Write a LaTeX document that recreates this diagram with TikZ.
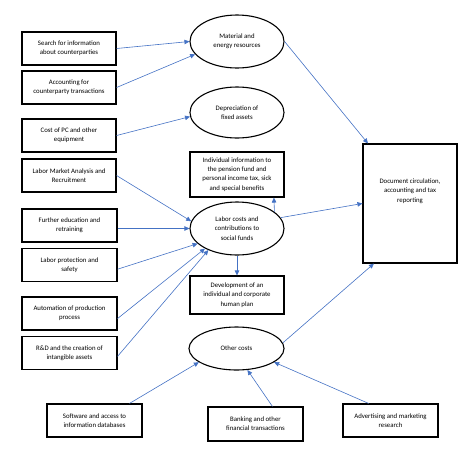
\documentclass[tikz,border=0pt]{standalone}
\usepackage{fontspec}
\setmainfont{Carlito}
\usetikzlibrary{arrows.meta,shapes.geometric}

\begin{document}
\begin{tikzpicture}[x=1pt,y=-1pt,
    every node/.style={font=\fontsize{6.8}{9.3}\selectfont,align=center,inner sep=1pt},
    box/.style={draw,line width=1.1pt,minimum width=94pt,minimum height=33pt},
    oval/.style={draw,line width=1.1pt,ellipse,minimum width=94pt,minimum height=53pt},
    link/.style={draw={rgb,255:red,68;green,114;blue,196},line width=0.6pt,
                 -{Triangle[length=5pt,width=4.5pt]}}]
    \useasboundingbox (0,0) rectangle (474,456);

    % cost items on the left
    \node[box] (search) at (69,48.5) {Search for information\\about counterparties};
    \node[box] (account) at (69,87.5) {Accounting for\\counterparty transactions};
    \node[box] (pc) at (69,135.5) {Cost of PC and other\\equipment};
    \node[box] (market) at (69,175.5) {Labor Market Analysis and\\Recruitment};
    \node[box,minimum width=95pt] (educ) at (69.5,225.5) {Further education and\\retraining};
    \node[box,minimum width=95pt] (safety) at (69.5,265) {Labor protection and\\safety};
    \node[box,minimum width=95pt] (autom) at (69.5,313.5) {Automation of production\\process};
    \node[box,minimum width=95pt] (rnd) at (69.5,353) {R\&D and the creation of\\intangible assets};
    \node[box,minimum width=95pt] (soft) at (94.5,420.5) {Software and access to\\information databases};
    \node[box,minimum width=95pt,minimum height=34pt] (bank) at (255.5,424) {Banking and other\\financial transactions};
    \node[box,minimum width=95pt] (advert) at (390.5,420.5) {Advertising and marketing\\research};

    % cost groups
    \node[oval] (mater) at (237,41.5) {Material and\\energy resources};
    \node[oval,minimum height=51pt] (depr) at (237,112.5) {Depreciation of\\fixed assets};
    \node[oval] (labor) at (237,228.5) {Labor costs and\\contributions to\\social funds};
    \node[oval,minimum width=95pt,minimum height=43pt] (other) at (236.5,348.5) {Other costs};

    \node[box,minimum height=45pt] (indiv) at (237,174.5) {Individual information to\\the pension fund and\\personal income tax, sick\\and special benefits};
    \node[box,minimum height=38pt] (devel) at (237,295) {Development of an\\individual and corporate\\human plan};
    \node[box,minimum height=119pt,text depth=26pt] (docs) at (410,203.5) {Document circulation,\\accounting and tax\\reporting};

    \draw[link] (search.east) -- (mater.west);
    \draw[link] (account.east) -- (mater.197);
    \draw[link] (pc.east) -- (depr.185);
    \draw[link] (market.east) -- (labor.171);
    \draw[link] (labor.west -| educ.east) -- (labor.west);
    \draw[link] (safety.-5) -- (labor.201);
    \draw[link] (autom.-6) -- (labor.212);
    \draw[link] (rnd.-4) -- (labor.217);
    \draw[link] (labor.24) -- (indiv.-32);
    \draw[link] (labor.south) -- (devel.north);
    \draw[link] (labor.14) -- (docs.west);
    \draw[link] (mater.east) -- (docs.125);
    \draw[link] (other.7) -- (docs.-121);
    \draw[link] (soft.26) -- (other.200);
    \draw[link] (bank.46) -- (other.-63);
    \draw[link] (advert.142) -- (other.-20);
\end{tikzpicture}
\end{document}
